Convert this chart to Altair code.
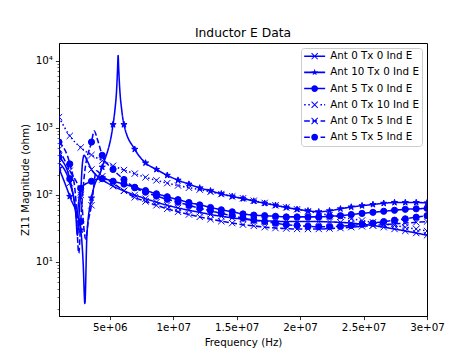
import altair as alt
import pandas as pd

# ---------------- data ----------------
FREQ_MHZ = [1.00, 1.85, 2.71, 3.56, 4.41, 5.26, 6.12, 6.97, 7.82, 8.68, 9.53, 10.38,
            11.24, 12.09, 12.94, 13.79, 14.65, 15.50, 16.35, 17.21, 18.06, 18.91,
            19.76, 20.62, 21.47, 22.32, 23.18, 24.03, 24.88, 25.74, 26.59, 27.44,
            28.29, 29.15, 30.00]

SERIES = ["Ant 0 Tx 0 Ind E", "Ant 10 Tx 0 Ind E", "Ant 5 Tx 0 Ind E",
          "Ant 0 Tx 10 Ind E", "Ant 0 Tx 5 Ind E", "Ant 5 Tx 5 Ind E"]

S1_Z = [300, 150, 110, 240, 170, 135, 115, 100, 88, 78, 70, 64, 59, 55, 51, 48, 45.5,
        43.5, 42, 41, 40.5, 40, 40, 40, 40, 39.5, 39, 38, 36.5, 35, 33, 31, 29, 27, 25]
S2_Z = [250, 95, 30, 90, 260, 1120, 1120, 480, 300, 240, 196, 166, 145, 127, 115, 104,
        95, 88, 81, 75, 70, 65, 61, 58, 56, 58, 62, 66, 69, 72, 75, 77, 77, 77, 76]
S3_Z = [365, 175, 125, 160, 175, 160, 145, 130, 116, 104, 94, 85, 77, 71, 65, 60, 56,
        52, 50, 49, 48, 47, 47, 47, 47, 48, 49, 51, 53, 55, 57, 59, 61, 62, 63]
S4_Z = [1450, 760, 510, 395, 325, 272, 235, 208, 183, 165, 150, 138, 128, 120, 111, 103,
        95, 89, 82, 76, 70, 65, 61, 57, 53, 50, 47, 44, 41.5, 39, 37, 35, 33, 31, 29]
S5_Z = [480, 230, 100, 70, 190, 150, 115, 92, 80, 70, 62, 56, 51, 47, 43.5, 40.5, 38,
        36, 34.5, 33, 32, 31.5, 31, 31, 31, 31.5, 32, 33, 34, 35, 36, 37, 38, 39, 40]
S6_Z = [615, 290, 40, 615, 390, 240, 170, 128, 110, 96, 86, 78, 70, 63, 58, 53, 49, 45,
        42, 40, 38, 36, 35, 34, 33.5, 33.5, 34, 35, 36.5, 38, 40, 42, 44, 46.5, 49]

# extra line-only points around the resonances (no markers there)
S1_EXTRA_MHZ = [2.30, 2.45, 2.58, 2.85, 2.98, 3.20]
S1_EXTRA_Z = [60, 25, 50, 300, 390, 330]
S2_EXTRA_MHZ = [2.90, 3.04, 3.20, 5.40, 5.55, 5.62, 5.66, 5.70, 5.78, 5.95]
S2_EXTRA_Z = [10, 2.4, 25, 1800, 4000, 8000, 12000, 8000, 4000, 1800]
S3_EXTRA_MHZ = [2.25, 2.40, 2.55]
S3_EXTRA_Z = [70, 45, 80]
S4_EXTRA_MHZ = []
S4_EXTRA_Z = []
S5_EXTRA_MHZ = [3.10, 3.30, 3.95]
S5_EXTRA_Z = [22, 40, 230]
S6_EXTRA_MHZ = [2.30, 2.56, 3.00, 3.78, 4.00]
S6_EXTRA_Z = [100, 13.5, 200, 900, 700]

X_TICKS = [5000000, 10000000, 15000000, 20000000, 25000000, 30000000]
X_TICK_LABELS = ["5e+06", "1e+07", "1.5e+07", "2e+07", "2.5e+07", "3e+07"]
Y_MAJOR_TICKS = [10, 100, 1000, 10000]
Y_MAJOR_LABELS = ["10¹", "10²", "10³", "10⁴"]
Y_MINOR_TICKS = [2, 3, 4, 5, 6, 7, 8, 9, 20, 30, 40, 50, 60, 70, 80, 90,
                 200, 300, 400, 500, 600, 700, 800, 900,
                 2000, 3000, 4000, 5000, 6000, 7000, 8000, 9000]

# ---------------- styles ----------------
BLUE = "#0000ff"
FONT = "DejaVu Sans"
MARKER = ["x", "star", "circle", "x", "x", "circle"]
LINESTYLE = ["solid", "solid", "solid", "dotted", "dashed", "dashed"]
DASHES = {"solid": [1, 0], "dotted": [1.5, 2.5], "dashed": [5.7, 2.5]}

X_PATH = "M-1,-1L1,1M-1,1L1,-1"
STAR_PATH = ("M0,-1L0.2245,-0.309L0.9511,-0.309L0.3633,0.118L0.5878,0.809L0,0.382"
             "L-0.5878,0.809L-0.3633,0.118L-0.9511,-0.309L-0.2245,-0.309Z")


# legend handles drawn as filled outlines (1 unit = 5 px at symbolSize 100)
def _rect(x0, x1, h=0.155):
    return f"M{x0},{-h}L{x1},{-h}L{x1},{h}L{x0},{h}Z"


LEG_SOLID = _rect(-1, 3.2)
LEG_DASHED = _rect(-1, 0.14) + _rect(0.64, 1.56) + _rect(2.28, 3.2)
LEG_DOTTED = _rect(-1, -0.69) + _rect(-0.18, 0.13) + _rect(2.26, 2.57) + _rect(3.0, 3.2)
LEG_X = ("M0.551,-0.691L1.791,0.549L1.649,0.691L0.409,-0.549Z"
         "M0.409,0.549L1.649,-0.691L1.791,-0.549L0.551,0.691Z")
LEG_CIRCLE = "M0.42,0A0.68,0.68,0,1,1,1.78,0A0.68,0.68,0,1,1,0.42,0Z"
LEG_STAR = ("M1.1,-0.72L1.262,-0.222L1.785,-0.222L1.362,0.085L1.523,0.582L1.1,0.275"
            "L0.677,0.582L0.838,0.085L0.415,-0.222L0.938,-0.222Z")
LEGEND_PATHS = [LEG_SOLID + LEG_X, LEG_SOLID + LEG_STAR, LEG_SOLID + LEG_CIRCLE,
                LEG_DOTTED + LEG_X, LEG_DASHED + LEG_X, LEG_DASHED + LEG_CIRCLE]

# ---------------- tables ----------------
vals = [S1_Z, S2_Z, S3_Z, S4_Z, S5_Z, S6_Z]
ef = [S1_EXTRA_MHZ, S2_EXTRA_MHZ, S3_EXTRA_MHZ, S4_EXTRA_MHZ, S5_EXTRA_MHZ, S6_EXTRA_MHZ]
ev = [S1_EXTRA_Z, S2_EXTRA_Z, S3_EXTRA_Z, S4_EXTRA_Z, S5_EXTRA_Z, S6_EXTRA_Z]

line_rows, mark_rows = [], []
for i, name in enumerate(SERIES):
    for f, v in zip(FREQ_MHZ, vals[i]):
        line_rows.append({"series": name, "freq": f * 1e6, "z": v, "style": LINESTYLE[i]})
        mark_rows.append({"series": name, "freq": f * 1e6, "z": v, "marker": MARKER[i]})
    for f, v in zip(ef[i], ev[i]):
        line_rows.append({"series": name, "freq": f * 1e6, "z": v, "style": LINESTYLE[i]})
line_df = pd.DataFrame(line_rows).sort_values(["series", "freq"])
mark_df = pd.DataFrame(mark_rows)


def cond_expr(values, labels):
    expr = "''"
    for v, l in reversed(list(zip(values, labels))):
        expr = f"datum.value == {v} ? '{l}' : {expr}"
    return expr


major_test = " || ".join(f"datum.value == {v}" for v in Y_MAJOR_TICKS)

x_axis = alt.Axis(values=X_TICKS, labelExpr=cond_expr(X_TICKS, X_TICK_LABELS),
                  title="Frequency (Hz)", grid=False, tickSize=3.6, tickWidth=0.8,
                  labelPadding=3.0, titlePadding=5, labelFlush=False)
y_axis = alt.Axis(values=sorted(Y_MAJOR_TICKS + Y_MINOR_TICKS),
                  labelExpr=cond_expr(Y_MAJOR_TICKS, Y_MAJOR_LABELS),
                  title="Z11 Magnitude (ohm)", grid=False,
                  tickSize={"condition": {"test": major_test, "value": 3.6}, "value": 2.0},
                  tickWidth={"condition": {"test": major_test, "value": 0.8}, "value": 0.6},
                  labelPadding=3.0, titlePadding=5, labelFlush=False)

xs = alt.Scale(domain=[1e6, 3e7], zero=False, nice=False)
ys = alt.Scale(type="log", domain=[1.56, 18500], nice=False)

X = alt.X("freq:Q", scale=xs, axis=x_axis)
Y = alt.Y("z:Q", scale=ys, axis=y_axis)


def line_layer(style):
    return alt.Chart(line_df).transform_filter(f"datum.style == '{style}'").mark_line(
        color=BLUE, strokeWidth=1.55, interpolate="monotone", clip=True,
        strokeCap="butt", strokeDash=DASHES[style]
    ).encode(x=X, y=Y, detail="series:N")


x_pts = alt.Chart(mark_df).transform_filter("datum.marker == 'x'").mark_point(
    shape=X_PATH, filled=False, stroke=BLUE, strokeWidth=1.0, size=40, opacity=1, clip=True
).encode(x=X, y=Y)

star_pts = alt.Chart(mark_df).transform_filter("datum.marker == 'star'").mark_point(
    shape=STAR_PATH, filled=True, fill=BLUE, stroke=BLUE, strokeWidth=1.0, size=42, opacity=1, clip=True
).encode(x=X, y=Y)

circ_pts = alt.Chart(mark_df).transform_filter("datum.marker == 'circle'").mark_point(
    shape="circle", filled=True, fill=BLUE, stroke=BLUE, strokeWidth=1.0, size=38, opacity=1, clip=True
).encode(x=X, y=Y)

# invisible marks whose only job is to carry the legend
legend_layer = alt.Chart(mark_df).mark_point(
    filled=True, fill=BLUE, opacity=0
).encode(
    x=X, y=Y,
    shape=alt.Shape("series:N", scale=alt.Scale(domain=SERIES, range=LEGEND_PATHS),
                    legend=alt.Legend(title=None, orient="top-right", offset=5, padding=3,
                                      fillColor="rgba(255,255,255,0.8)", strokeColor="#cccccc",
                                      cornerRadius=3, symbolSize=100, symbolStrokeWidth=0,
                                      symbolOpacity=1, symbolFillColor=BLUE,
                                      labelFont=FONT, labelFontSize=10.3, labelColor="black",
                                      labelOffset=16, labelLimit=0, rowPadding=5.2)),
)

chart = alt.layer(line_layer("solid"), line_layer("dotted"), line_layer("dashed"),
                  x_pts, star_pts, circ_pts, legend_layer).properties(
    width=368, height=273,
    title=alt.TitleParams("Inductor E Data", font=FONT, fontSize=12.3, fontWeight="normal",
                          color="black", offset=4, anchor="middle"),
    autosize=alt.AutoSizeParams(type="none"),
    padding={"left": 59, "top": 43, "right": 47, "bottom": 39},
    background="white",
).configure_view(
    stroke="black", strokeWidth=1
).configure_axis(
    domainColor="black", domainWidth=1, tickColor="black", labelColor="black", titleColor="black",
    labelFont=FONT, labelFontSize=10.3, titleFont=FONT, titleFontSize=10.3, titleFontWeight="normal"
)

chart.save("out.html", embed_options={"renderer": "svg", "actions": False})
